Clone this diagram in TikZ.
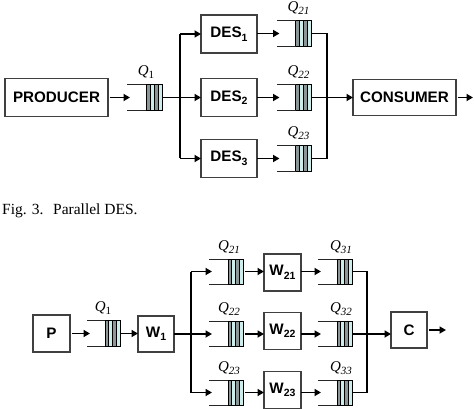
\documentclass[tikz,border=0pt]{standalone}
\usepackage{fontspec}
\setmainfont{Liberation Serif}
\newfontfamily\arialf{Liberation Sans}
\usetikzlibrary{arrows.meta,calc}
\definecolor{qgray}{HTML}{8C9696}
\definecolor{qcyan}{HTML}{CCEDEC}
\newcommand\sbx[1]{\raisebox{-3.5pt}{\fontsize{10.5}{10.5}\selectfont #1}}
\newcommand\ql[2]{\fontsize{15}{15}\selectfont\itshape Q\raisebox{-3pt}{\fontsize{11}{11}\selectfont #1#2}}
\tikzset{
  box/.style={draw=black!75, line width=1.1pt, fill=white, inner sep=0pt, outer sep=0pt,
    font=\arialf\bfseries\fontsize{15.2}{15.2}\selectfont},
  qs/.style={draw=black, line width=0.7pt, inner sep=0pt, outer sep=0pt, fill=qcyan,
    path picture={
      \path (path picture bounding box.south west) coordinate (qsw)
            (path picture bounding box.north east) coordinate (qne);
      \foreach \i in {0,2} {\fill[qgray] ($(qsw)!{\i/4}!(qsw -| qne)$) rectangle ($(qne -| qsw)!{(\i+1)/4}!(qne)$);}
      \foreach \i in {1,2,3} {\draw[line width=0.7pt] ($(qsw)!{\i/4}!(qsw -| qne)$) -- ($(qne -| qsw)!{\i/4}!(qne)$);}
    }},
  qline/.style={line width=0.9pt, draw=black!85},
  arr/.style={line width=1.9pt, -{Triangle[length=6.5pt,width=7pt]}},
  bus/.style={line width=1.9pt},
  qlabel/.style={inner sep=0pt},
  capt/.style={inner sep=0pt, anchor=base west, font=\fontsize{15.5}{15.5}\selectfont}
}
\newcommand\Queue[7]{%
  \node[qs, minimum width=#4pt, minimum height=#5pt] (#1) at (#2,#3) {};
  \draw[qline] (#1.north west) -- ++(-#6,0) (#1.south west) -- ++(-#6,0);
  \coordinate (#1in) at ($(#1.west)+(-#6+3,0)$);
  \node[qlabel] (#1lab) at ($(#1.north west)+(#7,-12)$) {};
}
\begin{document}
\begin{tikzpicture}[x=1pt,y=-1pt]
\useasboundingbox (0,0) rectangle (474,409);

% ---------------- top diagram ----------------
\node[box, minimum width=103pt, minimum height=38pt] (prod) at (56.5,97.5) {PRODUCER};
\Queue{q1}{154}{97.5}{16}{26}{19}{0}
\node[qlabel] at (q1lab) {\fontsize{15}{15}\selectfont\itshape Q\raisebox{-3pt}{\fontsize{11}{11}\selectfont\upshape 1}};

\node[box, minimum width=56pt, minimum height=38pt] (des1) at (229,34) {DES\sbx{1}};
\node[box, minimum width=56pt, minimum height=38pt] (des2) at (229,97.5) {DES\sbx{2}};
\node[box, minimum width=56pt, minimum height=38pt] (des3) at (229,158.5) {DES\sbx{3}};

\Queue{q21}{303.5}{33.5}{16}{26}{19}{3}
\Queue{q22}{303.5}{97.5}{16}{26}{19}{3}
\Queue{q23}{303.5}{158.5}{16}{26}{19}{3}
\node[qlabel] at (q21lab) {\ql 21};
\node[qlabel] at (q22lab) {\ql 22};
\node[qlabel] at (q23lab) {\ql 23};

\node[box, minimum width=103pt, minimum height=36pt] (cons) at (404.5,97.5) {CONSUMER};

\coordinate (s1) at (180,97.5);
\coordinate (s2) at (327,97.5);
\coordinate (out1) at (473,97.5);

\draw[arr, shorten <=2pt] (prod.east) -- (q1in);
\draw[bus] (q1.east) -- (s1);
\draw[bus] (s1 |- des1.west) -- (s1 |- des3.west);
\draw[arr] (s1 |- des1.west) -- (des1.west);
\draw[arr] (s1) -- (des2.west);
\draw[arr] (s1 |- des3.west) -- (des3.west);
\draw[arr] (des1.east |- q21in) -- (q21in);
\draw[arr] (des2.east) -- (q22in);
\draw[arr] (des3.east) -- (q23in);
\draw[bus] (q21.east) -- (s2 |- q21.east) -- (s2 |- q23.east) -- (q23.east);
\draw[bus] (q22.east) -- (s2);
\draw[arr] (s2) -- (cons.west);
\draw[arr, shorten <=2pt] (cons.east) -- (out1);

% ---------------- caption ----------------
\node[capt] (cap1) at (2,214) {Fig. 3.};
\node[capt] (cap2) at (53,214) {Parallel DES.};

% ---------------- bottom diagram ----------------
\node[box, minimum width=37pt, minimum height=37pt] (p) at (51.5,333.5) {P};
\Queue{qb1}{112.5}{333.5}{15}{26}{18}{-2}
\node[qlabel] at (qb1lab) {\fontsize{15}{15}\selectfont\itshape Q\raisebox{-3pt}{\fontsize{11}{11}\selectfont\upshape 1}};
\node[box, minimum width=36pt, minimum height=36pt] (w1) at (156,334) {W\sbx{1}};

\Queue{qb21}{235.5}{271.5}{15}{25}{19}{1}
\Queue{qb22}{235.5}{334}{15}{25}{19}{1}
\Queue{qb23}{235.5}{392.5}{15}{25}{19}{1}
\node[qlabel] at (qb21lab) {\ql 21};
\node[qlabel] at (qb22lab) {\ql 22};
\node[qlabel] at (qb23lab) {\ql 23};

\node[box, minimum width=37pt, minimum height=37pt] (w21) at (282.5,272.5) {W\sbx{21}};
\node[box, minimum width=37pt, minimum height=37pt] (w22) at (282.5,331) {W\sbx{22}};
\node[box, minimum width=37pt, minimum height=37pt] (w23) at (282.5,390) {W\sbx{23}};

\Queue{qb31}{344.5}{271.5}{15}{25}{19}{4}
\Queue{qb32}{344.5}{334}{15}{25}{19}{4}
\Queue{qb33}{344.5}{392.5}{15}{25}{19}{4}
\node[qlabel] at (qb31lab) {\ql 31};
\node[qlabel] at (qb32lab) {\ql 32};
\node[qlabel] at (qb33lab) {\ql 33};

\node[box, minimum width=36pt, minimum height=36pt] (c) at (409,330) {C};

\coordinate (s3) at (191,334);
\coordinate (s4) at (367,334);
\coordinate (out2) at (446,330);

\draw[arr, shorten <=2pt] (p.east |- qb1in) -- (qb1in);
\draw[arr] (qb1.east) -- (qb1.east -| w1.west);
\draw[bus] (w1.east |- s3) -- (s3);
\draw[bus] (s3 |- qb21in) -- (s3 |- qb23in);
\draw[arr] (s3 |- qb21in) -- (qb21in);
\draw[arr] (s3) -- (qb22in);
\draw[arr] (s3 |- qb23in) -- (qb23in);
\draw[arr, shorten <=2pt] (qb21.east) -- (qb21.east -| w21.west);
\draw[arr, shorten <=2pt] (qb22.east) -- (qb22.east -| w22.west);
\draw[arr, shorten <=2pt] (qb23.east) -- (qb23.east -| w23.west);
\draw[arr] (w21.east |- qb31in) -- (qb31in);
\draw[arr] (w22.east |- qb32in) -- (qb32in);
\draw[arr] (w23.east |- qb33in) -- (qb33in);
\draw[bus] (qb31.east) -- (s4 |- qb31.east) -- (s4 |- qb33.east) -- (qb33.east);
\draw[bus] (qb32.east) -- (s4);
\draw[arr] (s4) -- (s4 -| c.west);
\draw[arr, shorten <=2pt] (c.east) -- (out2);
\end{tikzpicture}
\end{document}
